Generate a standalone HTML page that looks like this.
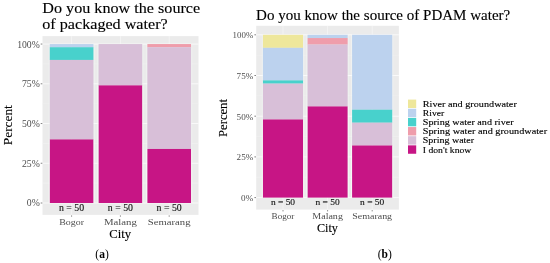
<!DOCTYPE html>
<html lang="en"><head><meta charset="utf-8"><title>Do you know the source of water?</title>
<style>html,body{margin:0;padding:0;background:#fff}svg{display:block}text{font-family:"Liberation Serif",serif}</style>
</head><body>
<svg width="550" height="263" viewBox="0 0 550 263">
<rect width="550" height="263" fill="#ffffff"/>
<rect x="42.5" y="36.1" width="156.00" height="178.80" fill="#ebebeb"/>
<line x1="42.5" x2="198.5" y1="183.13" y2="183.13" stroke="#f4f4f4" stroke-width="0.4"/>
<line x1="42.5" x2="198.5" y1="143.39" y2="143.39" stroke="#f4f4f4" stroke-width="0.4"/>
<line x1="42.5" x2="198.5" y1="103.66" y2="103.66" stroke="#f4f4f4" stroke-width="0.4"/>
<line x1="42.5" x2="198.5" y1="63.92" y2="63.92" stroke="#f4f4f4" stroke-width="0.4"/>
<line x1="42.5" x2="198.5" y1="203.00" y2="203.00" stroke="#ffffff" stroke-width="0.8" stroke-opacity="0.9"/>
<line x1="42.5" x2="198.5" y1="163.26" y2="163.26" stroke="#ffffff" stroke-width="0.8" stroke-opacity="0.9"/>
<line x1="42.5" x2="198.5" y1="123.53" y2="123.53" stroke="#ffffff" stroke-width="0.8" stroke-opacity="0.9"/>
<line x1="42.5" x2="198.5" y1="83.79" y2="83.79" stroke="#ffffff" stroke-width="0.8" stroke-opacity="0.9"/>
<line x1="42.5" x2="198.5" y1="44.05" y2="44.05" stroke="#ffffff" stroke-width="0.8" stroke-opacity="0.9"/>
<line x1="71.6" x2="71.6" y1="36.1" y2="214.9" stroke="#ffffff" stroke-width="0.6" stroke-opacity="0.75"/>
<line x1="120.4" x2="120.4" y1="36.1" y2="214.9" stroke="#ffffff" stroke-width="0.6" stroke-opacity="0.75"/>
<line x1="169.2" x2="169.2" y1="36.1" y2="214.9" stroke="#ffffff" stroke-width="0.6" stroke-opacity="0.75"/>
<rect x="49.70" y="44.05" width="43.8" height="3.18" fill="#bcd2ee"/>
<rect x="48.60" y="44.05" width="1.0" height="3.18" fill="#f7fdf9" fill-opacity="0.4"/>
<rect x="93.60" y="44.05" width="1.0" height="3.18" fill="#f7fdf9" fill-opacity="0.4"/>
<rect x="49.70" y="47.23" width="43.8" height="12.72" fill="#48d1cc"/>
<rect x="48.60" y="47.23" width="1.0" height="12.72" fill="#f7fdf9" fill-opacity="0.4"/>
<rect x="93.60" y="47.23" width="1.0" height="12.72" fill="#f7fdf9" fill-opacity="0.4"/>
<rect x="49.70" y="59.94" width="43.8" height="79.48" fill="#d8bfd8"/>
<rect x="48.60" y="59.94" width="1.0" height="79.48" fill="#f7fdf9" fill-opacity="0.4"/>
<rect x="93.60" y="59.94" width="1.0" height="79.48" fill="#f7fdf9" fill-opacity="0.4"/>
<rect x="49.70" y="139.42" width="43.8" height="63.58" fill="#c71585"/>
<rect x="48.60" y="139.42" width="1.0" height="63.58" fill="#f7fdf9" fill-opacity="0.8"/>
<rect x="93.60" y="139.42" width="1.0" height="63.58" fill="#f7fdf9" fill-opacity="0.8"/>
<rect x="98.50" y="44.05" width="43.8" height="41.33" fill="#d8bfd8"/>
<rect x="97.40" y="44.05" width="1.0" height="41.33" fill="#f7fdf9" fill-opacity="0.4"/>
<rect x="142.40" y="44.05" width="1.0" height="41.33" fill="#f7fdf9" fill-opacity="0.4"/>
<rect x="98.50" y="85.38" width="43.8" height="117.62" fill="#c71585"/>
<rect x="97.40" y="85.38" width="1.0" height="117.62" fill="#f7fdf9" fill-opacity="0.8"/>
<rect x="142.40" y="85.38" width="1.0" height="117.62" fill="#f7fdf9" fill-opacity="0.8"/>
<rect x="147.30" y="44.05" width="43.8" height="3.18" fill="#ef9dab"/>
<rect x="146.20" y="44.05" width="1.0" height="3.18" fill="#f7fdf9" fill-opacity="0.4"/>
<rect x="191.20" y="44.05" width="1.0" height="3.18" fill="#f7fdf9" fill-opacity="0.4"/>
<rect x="147.30" y="47.23" width="43.8" height="101.73" fill="#d8bfd8"/>
<rect x="146.20" y="47.23" width="1.0" height="101.73" fill="#f7fdf9" fill-opacity="0.4"/>
<rect x="191.20" y="47.23" width="1.0" height="101.73" fill="#f7fdf9" fill-opacity="0.4"/>
<rect x="147.30" y="148.96" width="43.8" height="54.04" fill="#c71585"/>
<rect x="146.20" y="148.96" width="1.0" height="54.04" fill="#f7fdf9" fill-opacity="0.8"/>
<rect x="191.20" y="148.96" width="1.0" height="54.04" fill="#f7fdf9" fill-opacity="0.8"/>
<line x1="40.7" x2="42.3" y1="203.00" y2="203.00" stroke="#333333" stroke-width="0.6"/>
<text x="39.8" y="206.47" font-size="9.3" text-anchor="end" fill="#4d4d4d" textLength="13.0" lengthAdjust="spacingAndGlyphs">0%</text>
<line x1="40.7" x2="42.3" y1="163.26" y2="163.26" stroke="#333333" stroke-width="0.6"/>
<text x="39.8" y="166.73" font-size="9.3" text-anchor="end" fill="#4d4d4d" textLength="17.9" lengthAdjust="spacingAndGlyphs">25%</text>
<line x1="40.7" x2="42.3" y1="123.53" y2="123.53" stroke="#333333" stroke-width="0.6"/>
<text x="39.8" y="126.99" font-size="9.3" text-anchor="end" fill="#4d4d4d" textLength="17.9" lengthAdjust="spacingAndGlyphs">50%</text>
<line x1="40.7" x2="42.3" y1="83.79" y2="83.79" stroke="#333333" stroke-width="0.6"/>
<text x="39.8" y="87.26" font-size="9.3" text-anchor="end" fill="#4d4d4d" textLength="17.9" lengthAdjust="spacingAndGlyphs">75%</text>
<line x1="40.7" x2="42.3" y1="44.05" y2="44.05" stroke="#333333" stroke-width="0.6"/>
<text x="39.8" y="47.52" font-size="9.3" text-anchor="end" fill="#4d4d4d" textLength="22.6" lengthAdjust="spacingAndGlyphs">100%</text>
<line x1="71.6" x2="71.6" y1="215.4" y2="216.70000000000002" stroke="#333333" stroke-width="0.6"/>
<text x="71.6" y="225.3" font-size="9.1" text-anchor="middle" fill="#4d4d4d" textLength="24.8" lengthAdjust="spacingAndGlyphs">Bogor</text>
<text x="71.6" y="210.8" font-size="9.3" text-anchor="middle" fill="#111" textLength="25.2" lengthAdjust="spacingAndGlyphs" stroke="#111" stroke-width="0.12">n = 50</text>
<line x1="120.4" x2="120.4" y1="215.4" y2="216.70000000000002" stroke="#333333" stroke-width="0.6"/>
<text x="120.4" y="225.3" font-size="9.1" text-anchor="middle" fill="#4d4d4d" textLength="33" lengthAdjust="spacingAndGlyphs">Malang</text>
<text x="120.4" y="210.8" font-size="9.3" text-anchor="middle" fill="#111" textLength="25.2" lengthAdjust="spacingAndGlyphs" stroke="#111" stroke-width="0.12">n = 50</text>
<line x1="169.2" x2="169.2" y1="215.4" y2="216.70000000000002" stroke="#333333" stroke-width="0.6"/>
<text x="169.2" y="225.3" font-size="9.1" text-anchor="middle" fill="#4d4d4d" textLength="42.7" lengthAdjust="spacingAndGlyphs">Semarang</text>
<text x="169.2" y="210.8" font-size="9.3" text-anchor="middle" fill="#111" textLength="25.2" lengthAdjust="spacingAndGlyphs" stroke="#111" stroke-width="0.12">n = 50</text>
<text x="42.3" y="13" font-size="14.4" text-anchor="start" fill="#000" textLength="157.9" lengthAdjust="spacingAndGlyphs" stroke="#000" stroke-width="0.12">Do you know the source</text>
<text x="42.3" y="28.5" font-size="14.4" text-anchor="start" fill="#000" textLength="125.4" lengthAdjust="spacingAndGlyphs" stroke="#000" stroke-width="0.12">of packaged water?</text>
<text transform="translate(11.7,125.2) rotate(-90)" font-size="12.5" text-anchor="middle" textLength="40" lengthAdjust="spacingAndGlyphs" fill="#000" stroke="#000" stroke-width="0.1">Percent</text>
<text x="120.2" y="238.2" font-size="12.8" text-anchor="middle" fill="#000" textLength="21.8" lengthAdjust="spacingAndGlyphs" stroke="#000" stroke-width="0.12">City</text>
<text x="102" y="257.5" font-size="11.5" text-anchor="middle" fill="#000">(<tspan font-weight="bold">a</tspan>)</text>
<rect x="256.2" y="25.8" width="142.70" height="183.80" fill="#ebebeb"/>
<line x1="256.2" x2="398.9" y1="177.25" y2="177.25" stroke="#f4f4f4" stroke-width="0.4"/>
<line x1="256.2" x2="398.9" y1="136.55" y2="136.55" stroke="#f4f4f4" stroke-width="0.4"/>
<line x1="256.2" x2="398.9" y1="95.85" y2="95.85" stroke="#f4f4f4" stroke-width="0.4"/>
<line x1="256.2" x2="398.9" y1="55.15" y2="55.15" stroke="#f4f4f4" stroke-width="0.4"/>
<line x1="256.2" x2="398.9" y1="197.60" y2="197.60" stroke="#ffffff" stroke-width="0.8" stroke-opacity="0.9"/>
<line x1="256.2" x2="398.9" y1="156.90" y2="156.90" stroke="#ffffff" stroke-width="0.8" stroke-opacity="0.9"/>
<line x1="256.2" x2="398.9" y1="116.20" y2="116.20" stroke="#ffffff" stroke-width="0.8" stroke-opacity="0.9"/>
<line x1="256.2" x2="398.9" y1="75.50" y2="75.50" stroke="#ffffff" stroke-width="0.8" stroke-opacity="0.9"/>
<line x1="256.2" x2="398.9" y1="34.80" y2="34.80" stroke="#ffffff" stroke-width="0.8" stroke-opacity="0.9"/>
<line x1="283.0" x2="283.0" y1="25.8" y2="209.6" stroke="#ffffff" stroke-width="0.6" stroke-opacity="0.75"/>
<line x1="327.6" x2="327.6" y1="25.8" y2="209.6" stroke="#ffffff" stroke-width="0.6" stroke-opacity="0.75"/>
<line x1="372.2" x2="372.2" y1="25.8" y2="209.6" stroke="#ffffff" stroke-width="0.6" stroke-opacity="0.75"/>
<rect x="262.90" y="34.80" width="40.2" height="13.02" fill="#eee79b"/>
<rect x="261.80" y="34.80" width="1.0" height="13.02" fill="#f7fdf9" fill-opacity="0.4"/>
<rect x="303.20" y="34.80" width="1.0" height="13.02" fill="#f7fdf9" fill-opacity="0.4"/>
<rect x="262.90" y="47.82" width="40.2" height="32.56" fill="#bcd2ee"/>
<rect x="261.80" y="47.82" width="1.0" height="32.56" fill="#f7fdf9" fill-opacity="0.4"/>
<rect x="303.20" y="47.82" width="1.0" height="32.56" fill="#f7fdf9" fill-opacity="0.4"/>
<rect x="262.90" y="80.38" width="40.2" height="3.26" fill="#48d1cc"/>
<rect x="261.80" y="80.38" width="1.0" height="3.26" fill="#f7fdf9" fill-opacity="0.4"/>
<rect x="303.20" y="80.38" width="1.0" height="3.26" fill="#f7fdf9" fill-opacity="0.4"/>
<rect x="262.90" y="83.64" width="40.2" height="35.82" fill="#d8bfd8"/>
<rect x="261.80" y="83.64" width="1.0" height="35.82" fill="#f7fdf9" fill-opacity="0.4"/>
<rect x="303.20" y="83.64" width="1.0" height="35.82" fill="#f7fdf9" fill-opacity="0.4"/>
<rect x="262.90" y="119.46" width="40.2" height="78.14" fill="#c71585"/>
<rect x="261.80" y="119.46" width="1.0" height="78.14" fill="#f7fdf9" fill-opacity="0.8"/>
<rect x="303.20" y="119.46" width="1.0" height="78.14" fill="#f7fdf9" fill-opacity="0.8"/>
<rect x="307.50" y="34.80" width="40.2" height="3.26" fill="#bcd2ee"/>
<rect x="306.40" y="34.80" width="1.0" height="3.26" fill="#f7fdf9" fill-opacity="0.4"/>
<rect x="347.80" y="34.80" width="1.0" height="3.26" fill="#f7fdf9" fill-opacity="0.4"/>
<rect x="307.50" y="38.06" width="40.2" height="6.51" fill="#ef9dab"/>
<rect x="306.40" y="38.06" width="1.0" height="6.51" fill="#f7fdf9" fill-opacity="0.4"/>
<rect x="347.80" y="38.06" width="1.0" height="6.51" fill="#f7fdf9" fill-opacity="0.4"/>
<rect x="307.50" y="44.57" width="40.2" height="61.86" fill="#d8bfd8"/>
<rect x="306.40" y="44.57" width="1.0" height="61.86" fill="#f7fdf9" fill-opacity="0.4"/>
<rect x="347.80" y="44.57" width="1.0" height="61.86" fill="#f7fdf9" fill-opacity="0.4"/>
<rect x="307.50" y="106.43" width="40.2" height="91.17" fill="#c71585"/>
<rect x="306.40" y="106.43" width="1.0" height="91.17" fill="#f7fdf9" fill-opacity="0.8"/>
<rect x="347.80" y="106.43" width="1.0" height="91.17" fill="#f7fdf9" fill-opacity="0.8"/>
<rect x="352.10" y="34.80" width="40.2" height="74.89" fill="#bcd2ee"/>
<rect x="351.00" y="34.80" width="1.0" height="74.89" fill="#f7fdf9" fill-opacity="0.4"/>
<rect x="392.40" y="34.80" width="1.0" height="74.89" fill="#f7fdf9" fill-opacity="0.4"/>
<rect x="352.10" y="109.69" width="40.2" height="13.02" fill="#48d1cc"/>
<rect x="351.00" y="109.69" width="1.0" height="13.02" fill="#f7fdf9" fill-opacity="0.4"/>
<rect x="392.40" y="109.69" width="1.0" height="13.02" fill="#f7fdf9" fill-opacity="0.4"/>
<rect x="352.10" y="122.71" width="40.2" height="22.79" fill="#d8bfd8"/>
<rect x="351.00" y="122.71" width="1.0" height="22.79" fill="#f7fdf9" fill-opacity="0.4"/>
<rect x="392.40" y="122.71" width="1.0" height="22.79" fill="#f7fdf9" fill-opacity="0.4"/>
<rect x="352.10" y="145.50" width="40.2" height="52.10" fill="#c71585"/>
<rect x="351.00" y="145.50" width="1.0" height="52.10" fill="#f7fdf9" fill-opacity="0.8"/>
<rect x="392.40" y="145.50" width="1.0" height="52.10" fill="#f7fdf9" fill-opacity="0.8"/>
<line x1="254.39999999999998" x2="256.0" y1="197.60" y2="197.60" stroke="#333333" stroke-width="0.6"/>
<text x="253.3" y="201.0" font-size="9.1" text-anchor="end" fill="#4d4d4d" textLength="12.2" lengthAdjust="spacingAndGlyphs">0%</text>
<line x1="254.39999999999998" x2="256.0" y1="156.90" y2="156.90" stroke="#333333" stroke-width="0.6"/>
<text x="253.3" y="160.3" font-size="9.1" text-anchor="end" fill="#4d4d4d" textLength="16.7" lengthAdjust="spacingAndGlyphs">25%</text>
<line x1="254.39999999999998" x2="256.0" y1="116.20" y2="116.20" stroke="#333333" stroke-width="0.6"/>
<text x="253.3" y="119.6" font-size="9.1" text-anchor="end" fill="#4d4d4d" textLength="16.7" lengthAdjust="spacingAndGlyphs">50%</text>
<line x1="254.39999999999998" x2="256.0" y1="75.50" y2="75.50" stroke="#333333" stroke-width="0.6"/>
<text x="253.3" y="78.9" font-size="9.1" text-anchor="end" fill="#4d4d4d" textLength="16.7" lengthAdjust="spacingAndGlyphs">75%</text>
<line x1="254.39999999999998" x2="256.0" y1="34.80" y2="34.80" stroke="#333333" stroke-width="0.6"/>
<text x="253.3" y="38.2" font-size="9.1" text-anchor="end" fill="#4d4d4d" textLength="20.7" lengthAdjust="spacingAndGlyphs">100%</text>
<line x1="283.0" x2="283.0" y1="210.1" y2="211.4" stroke="#333333" stroke-width="0.6"/>
<text x="283.0" y="219.3" font-size="8.7" text-anchor="middle" fill="#4d4d4d" textLength="22.8" lengthAdjust="spacingAndGlyphs">Bogor</text>
<text x="283.0" y="205.2" font-size="9.0" text-anchor="middle" fill="#111" textLength="24.2" lengthAdjust="spacingAndGlyphs" stroke="#111" stroke-width="0.12">n = 50</text>
<line x1="327.6" x2="327.6" y1="210.1" y2="211.4" stroke="#333333" stroke-width="0.6"/>
<text x="327.6" y="219.3" font-size="8.7" text-anchor="middle" fill="#4d4d4d" textLength="30.6" lengthAdjust="spacingAndGlyphs">Malang</text>
<text x="327.6" y="205.2" font-size="9.0" text-anchor="middle" fill="#111" textLength="24.2" lengthAdjust="spacingAndGlyphs" stroke="#111" stroke-width="0.12">n = 50</text>
<line x1="372.2" x2="372.2" y1="210.1" y2="211.4" stroke="#333333" stroke-width="0.6"/>
<text x="372.2" y="219.3" font-size="8.7" text-anchor="middle" fill="#4d4d4d" textLength="39.8" lengthAdjust="spacingAndGlyphs">Semarang</text>
<text x="372.2" y="205.2" font-size="9.0" text-anchor="middle" fill="#111" textLength="24.2" lengthAdjust="spacingAndGlyphs" stroke="#111" stroke-width="0.12">n = 50</text>
<text x="256.1" y="19.5" font-size="14" text-anchor="start" fill="#000" textLength="254.2" lengthAdjust="spacingAndGlyphs" stroke="#000" stroke-width="0.12">Do you know the source of PDAM water?</text>
<text transform="translate(227.0,118) rotate(-90)" font-size="12" text-anchor="middle" textLength="37.8" lengthAdjust="spacingAndGlyphs" fill="#000" stroke="#000" stroke-width="0.1">Percent</text>
<text x="327.4" y="231.7" font-size="11.6" text-anchor="middle" fill="#000" textLength="21" lengthAdjust="spacingAndGlyphs" stroke="#000" stroke-width="0.12">City</text>
<text x="384.8" y="257.6" font-size="11.5" text-anchor="middle" fill="#000">(<tspan font-weight="bold">b</tspan>)</text>
<rect x="408" y="99.60" width="8.2" height="8.4" fill="#eee79b"/>
<text x="422.8" y="106.9" font-size="8.8" text-anchor="start" fill="#000" textLength="94.0" lengthAdjust="spacingAndGlyphs" stroke="#000" stroke-width="0.12">River and groundwater</text>
<rect x="408" y="108.75" width="8.2" height="8.4" fill="#bcd2ee"/>
<text x="422.8" y="116.03" font-size="8.8" text-anchor="start" fill="#000" textLength="21.4" lengthAdjust="spacingAndGlyphs" stroke="#000" stroke-width="0.12">River</text>
<rect x="408" y="117.90" width="8.2" height="8.4" fill="#48d1cc"/>
<text x="422.8" y="125.16" font-size="8.8" text-anchor="start" fill="#000" textLength="90.8" lengthAdjust="spacingAndGlyphs" stroke="#000" stroke-width="0.12">Spring water and river</text>
<rect x="408" y="127.05" width="8.2" height="8.4" fill="#ef9dab"/>
<text x="422.8" y="134.29" font-size="8.8" text-anchor="start" fill="#000" textLength="124.3" lengthAdjust="spacingAndGlyphs" stroke="#000" stroke-width="0.12">Spring water and groundwater</text>
<rect x="408" y="136.20" width="8.2" height="8.4" fill="#d8bfd8"/>
<text x="422.8" y="143.42" font-size="8.8" text-anchor="start" fill="#000" textLength="51.3" lengthAdjust="spacingAndGlyphs" stroke="#000" stroke-width="0.12">Spring water</text>
<rect x="408" y="145.35" width="8.2" height="8.4" fill="#c71585"/>
<text x="422.8" y="152.55" font-size="8.8" text-anchor="start" fill="#000" textLength="48.5" lengthAdjust="spacingAndGlyphs" stroke="#000" stroke-width="0.12">I don't know</text>
</svg></body></html>
